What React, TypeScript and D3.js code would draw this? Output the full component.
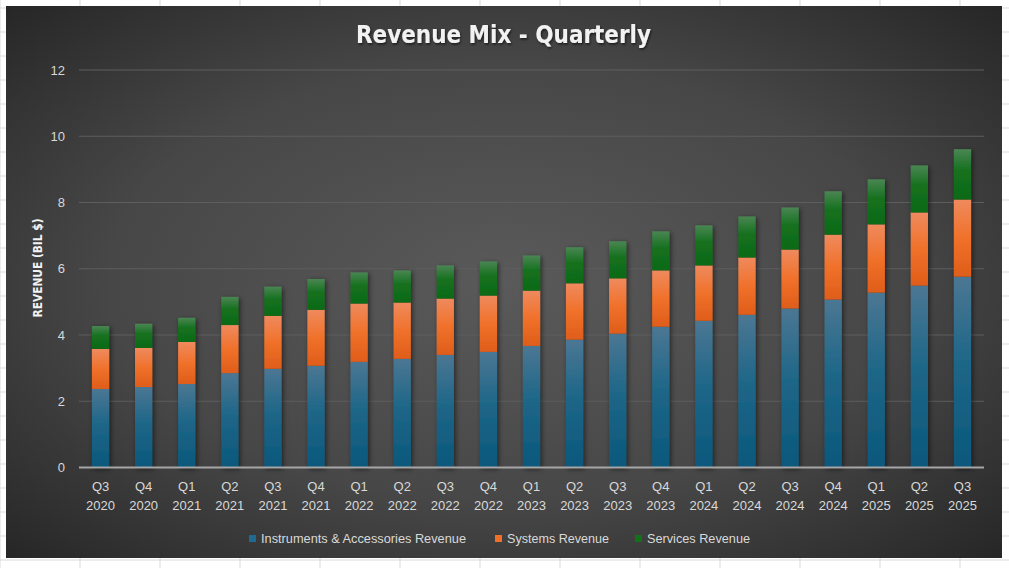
import React from 'react';
import * as d3 from 'd3';

const quarters = ['Q3 2020', 'Q4 2020', 'Q1 2021', 'Q2 2021', 'Q3 2021', 'Q4 2021', 'Q1 2022', 'Q2 2022', 'Q3 2022', 'Q4 2022', 'Q1 2023', 'Q2 2023', 'Q3 2023', 'Q4 2023', 'Q1 2024', 'Q2 2024', 'Q3 2024', 'Q4 2024', 'Q1 2025', 'Q2 2025', 'Q3 2025'];
const instruments = [2.37, 2.43, 2.52, 2.85, 2.98, 3.07, 3.19, 3.28, 3.40, 3.49, 3.67, 3.86, 4.04, 4.25, 4.43, 4.61, 4.80, 5.07, 5.28, 5.49, 5.76];
const systems = [1.21, 1.18, 1.27, 1.45, 1.60, 1.69, 1.76, 1.70, 1.70, 1.70, 1.67, 1.70, 1.67, 1.70, 1.67, 1.73, 1.78, 1.96, 2.06, 2.21, 2.33];
const services = [0.69, 0.73, 0.73, 0.85, 0.88, 0.93, 0.94, 0.97, 1.00, 1.03, 1.06, 1.09, 1.12, 1.18, 1.21, 1.24, 1.27, 1.31, 1.36, 1.42, 1.52];
const seriesNames = ['Instruments & Accessories Revenue', 'Systems Revenue', 'Services Revenue'];
const yTicks = [0, 2, 4, 6, 8, 10, 12];

const W = 1009;
const H = 568;
const chart = { x: 6, y: 6, w: 996, h: 552 };
const plot = { left: 79, right: 984, top: 70, bottom: 467.5 };

const grads = [
  { id: 'gBlue', stops: [['0%', '#4b7793'], ['45%', '#1e6688'], ['100%', '#0a587c']], legend: '#1f6a91' },
  { id: 'gOrange', stops: [['0%', '#ef8a5e'], ['50%', '#f0712a'], ['100%', '#df5d1a']], legend: '#f0702a' },
  { id: 'gGreen', stops: [['0%', '#4a8653'], ['45%', '#13701c'], ['100%', '#0f6a18']], legend: '#137019' },
];

export default function App() {
  const rows = quarters.map((q, i) => ({ q, a: instruments[i], b: systems[i], c: services[i] }));
  const stack = d3.stack<any>().keys(['a', 'b', 'c'])(rows);

  const x = d3.scaleBand().domain(quarters).range([plot.left, plot.right]).paddingInner(0.6).paddingOuter(0.3);
  const y = d3.scaleLinear().domain([0, 12]).range([plot.bottom, plot.top]);

  const cols = d3.range(0, W + 1, 80);
  const rowsY = d3.range(8, H, 24);

  const legendItems = [
    { x: 249, w: 205 },
    { x: 495, w: 102 },
    { x: 635, w: 103 },
  ];

  return (
    <svg width={W} height={H} style={{ position: 'fixed', left: 0, top: 0, background: '#fff' }}>
      <defs>
        <radialGradient id="bg" cx="0.5" cy="0.5" r="0.72">
          <stop offset="0%" stopColor="#5a5a5a" />
          <stop offset="55%" stopColor="#474747" />
          <stop offset="100%" stopColor="#252525" />
        </radialGradient>
        {grads.map(g => (
          <linearGradient key={g.id} id={g.id} x1="0" y1="0" x2="0" y2="1">
            {g.stops.map(s => <stop key={s[0]} offset={s[0]} stopColor={s[1]} />)}
          </linearGradient>
        ))}
        <filter id="shadow" x="-50%" y="-10%" width="200%" height="130%">
          <feDropShadow dx="1.5" dy="1.5" stdDeviation="2.5" floodColor="#000" floodOpacity="0.55" />
        </filter>
        <filter id="tshadow" x="-10%" y="-30%" width="120%" height="160%">
          <feDropShadow dx="1" dy="1.5" stdDeviation="1.2" floodColor="#000" floodOpacity="0.6" />
        </filter>
      </defs>

      {/* spreadsheet grid behind the chart */}
      {cols.map(c => <line key={'c' + c} x1={c} x2={c} y1={0} y2={H} stroke="#d9d9d9" />)}
      {rowsY.map(r => <line key={'r' + r} x1={0} x2={W} y1={r} y2={r} stroke="#d9d9d9" />)}

      <rect x={chart.x} y={chart.y} width={chart.w} height={chart.h} fill="url(#bg)" />

      {yTicks.filter(t => t > 0).map(t => (
        <line key={t} x1={plot.left} x2={plot.right} y1={y(t)} y2={y(t)} stroke="#5e5e5e" strokeWidth={1} />
      ))}

      {yTicks.map(t => (
        <text key={t} x={65} y={y(t)} dy="0.35em" textAnchor="end" fill="#d9d9d9" fontSize={13} fontFamily="Liberation Sans, Arial, sans-serif">{t}</text>
      ))}

      <g filter="url(#shadow)">
        {quarters.map((q, i) => (
          <g key={q}>
            {stack.map((s, k) => (
              <rect key={k} x={x(q)} width={x.bandwidth()} y={y(s[i][1])} height={y(s[i][0]) - y(s[i][1])} fill={`url(#${grads[k].id})`} />
            ))}
          </g>
        ))}
      </g>

      <line x1={plot.left} x2={plot.right} y1={plot.bottom} y2={plot.bottom} stroke="#a6a6a6" strokeWidth={2} />

      {quarters.map(q => {
        const [qq, yr] = q.split(' ');
        const cx = (x(q) as number) + x.bandwidth() / 2;
        return (
          <text key={q} x={cx} textAnchor="middle" fill="#d9d9d9" fontSize={13} fontFamily="Liberation Sans, Arial, sans-serif">
            <tspan x={cx} y={491}>{qq}</tspan>
            <tspan x={cx} y={510}>{yr}</tspan>
          </text>
        );
      })}

      <text transform="translate(42,268) rotate(-90)" textAnchor="middle" fill="#f2f2f2" fontSize={13} fontWeight="bold" fontFamily="DejaVu Sans, sans-serif" textLength={99} lengthAdjust="spacingAndGlyphs">REVENUE (BIL $)</text>

      <text x={356} y={43} fill="#f2f2f2" fontSize={24} fontWeight="bold" fontFamily="DejaVu Sans, sans-serif" textLength={295} lengthAdjust="spacingAndGlyphs" filter="url(#tshadow)">Revenue Mix - Quarterly</text>

      {seriesNames.map((n, k) => (
        <g key={n}>
          <rect x={legendItems[k].x} y={535} width={7} height={7} fill={grads[k].legend} />
          <text x={legendItems[k].x + 12} y={543} fill="#d9d9d9" fontSize={13} fontFamily="Liberation Sans Narrow, Liberation Sans, sans-serif" textLength={legendItems[k].w} lengthAdjust="spacingAndGlyphs">{n}</text>
        </g>
      ))}
    </svg>
  );
}
